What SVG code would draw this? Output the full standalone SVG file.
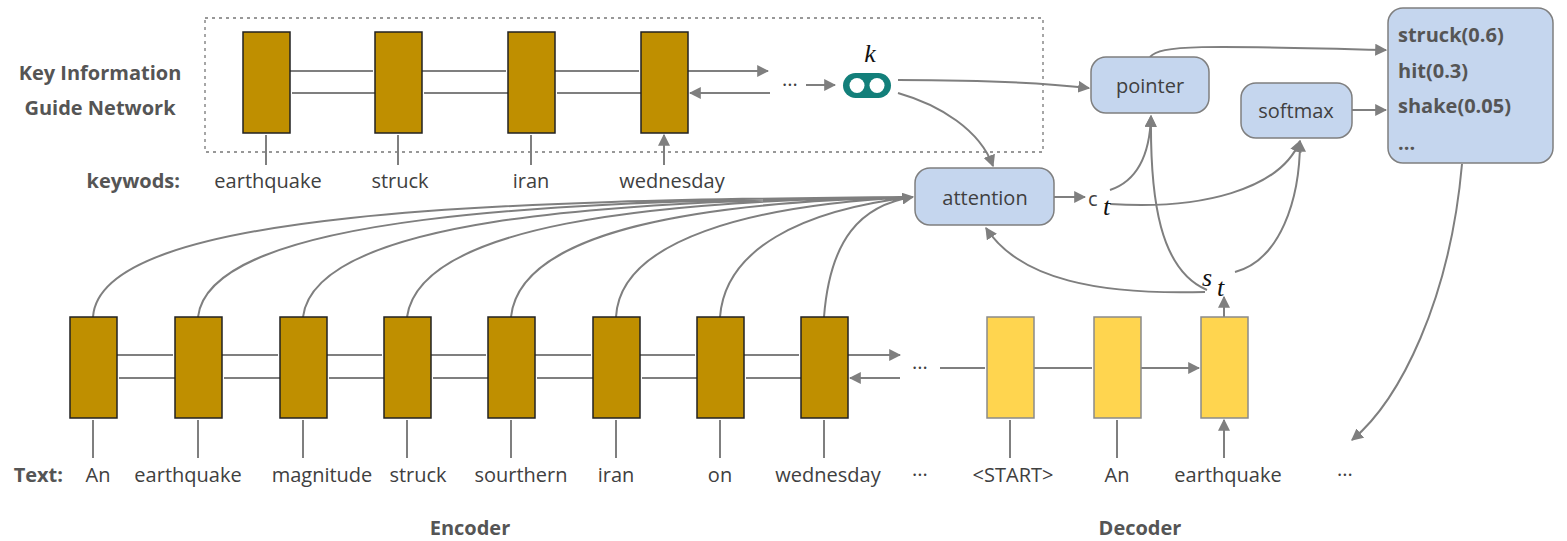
<svg xmlns="http://www.w3.org/2000/svg" width="1567" height="541" viewBox="0 0 1567 541">
<defs>
<marker id="a" viewBox="0 0 10 10" refX="9" refY="5" markerWidth="6" markerHeight="6" orient="auto-start-reverse"><path d="M0,0 L10,5 L0,10 z" fill="#7f7f7f"/></marker>
<style>
.c{fill:none;stroke:#7f7f7f;stroke-width:2;marker-end:url(#a)}
.g{fill:#bf8f00;stroke:#222;stroke-width:1.5}
.y{fill:#ffd54f;stroke:#8a8a8a;stroke-width:1.5}
.b{fill:#c5d6ee;stroke:#7f7f7f;stroke-width:1.5}
text{font-family:"Open Sans","DejaVu Sans",sans-serif;fill:#404040;font-size:20px}
.bd{font-weight:bold;fill:#555}
.m{font-family:"Liberation Serif",serif;font-style:italic;fill:#111;font-size:26px}
</style>
</defs>
<rect x="205" y="18" width="838" height="134" fill="none" stroke="#777" stroke-dasharray="3,4" stroke-width="1.3"/>
<text class="bd" x="100" y="80" text-anchor="middle" font-size="23">Key Information</text>
<text class="bd" x="100" y="115" text-anchor="middle" font-size="23">Guide Network</text>
<text class="bd" x="180" y="188" text-anchor="end" font-size="18">keywods:</text>
<text class="bd" x="63" y="482" text-anchor="end" font-size="18">Text:</text>
<text class="bd" x="470" y="535" text-anchor="middle" font-size="21">Encoder</text>
<text class="bd" x="1140" y="535" text-anchor="middle" font-size="21">Decoder</text>
<g id="connectors">
<path class="c" d="M290,71H373M422,71H506M555,71H639M688,71H768"/>
<path class="c" d="M375,93H292M508,93H424M641,93H557M770,93H690"/>
<path class="c" d="M806,85H835"/>
<path class="c" d="M266,165V135M398,165V135M531,165V135M664,165V135"/>
<path class="c" d="M117,355H173M222,355H278M327,355H382M431,355H486M535,355H591M640,355H695M744,355H799M848,355H900"/>
<path class="c" d="M175,378H119M280,378H224M384,378H329M488,378H433M593,378H537M697,378H642M801,378H746M900,378H850"/>
<path class="c" d="M940,368H985M1034,368H1092M1141,368H1199"/>
<path class="c" d="M93,458V420M198,458V420M303,458V420M407,458V420M511,458V420M616,458V420M720,458V420M824,458V420M1010,458V420M1117,458V420M1224,458V420"/>
<path class="c" d="M1224,317V297"/>
<path class="c" d="M93,317C100,210 500,200 913,197M198,317C210,215 550,200 913,197M303,317C315,220 600,200 913,197M407,317C420,225 650,200 913,197M511,317C520,230 700,202 913,197M616,317C620,240 750,205 913,197M720,317C725,250 800,210 913,197M824,317C830,240 860,205 913,197"/>
<path class="c" d="M898,80C930,80 1020,80 1089,88"/>
<path class="c" d="M898,93C940,105 980,130 993,166"/>
<path class="c" d="M1054,197H1085"/>
<path class="c" d="M1110,190C1140,180 1150,150 1151,116"/>
<path class="c" d="M1110,204C1200,210 1280,190 1300,141"/>
<path class="c" d="M1207,290C1160,270 1150,200 1151,116"/>
<path class="c" d="M1235,272C1280,260 1300,200 1300,141"/>
<path class="c" d="M1205,292C1100,295 1020,280 986,228"/>
<path class="c" d="M1150,57C1160,45 1200,45 1386,50"/>
<path class="c" d="M1352,110H1386"/>
<path class="c" d="M1462,164C1450,300 1400,400 1352,440"/>
</g>
<g id="kg1"><rect class="g" x="243" y="32" width="47" height="101"/></g>
<g id="kg2"><rect class="g" x="375" y="32" width="47" height="101"/></g>
<g id="kg3"><rect class="g" x="508" y="32" width="47" height="101"/></g>
<g id="kg4"><rect class="g" x="641" y="32" width="47" height="101"/></g>
<text x="790" y="92" text-anchor="middle">···</text>
<g id="k"><rect x="843" y="73" width="48" height="25" rx="12.5" fill="#137f7a"/><circle cx="857" cy="85.5" r="7.5" fill="#fff"/><circle cx="877" cy="85.5" r="7.5" fill="#fff"/><text class="m" x="870" y="62" text-anchor="middle" font-size="24">k</text></g>
<text x="268" y="188" text-anchor="middle">earthquake</text>
<text x="400" y="188" text-anchor="middle">struck</text>
<text x="531" y="188" text-anchor="middle">iran</text>
<text x="672" y="188" text-anchor="middle">wednesday</text>
<g id="enc">
<rect class="g" x="70" y="317" width="47" height="101"/><rect class="g" x="175" y="317" width="47" height="101"/><rect class="g" x="280" y="317" width="47" height="101"/><rect class="g" x="384" y="317" width="47" height="101"/><rect class="g" x="488" y="317" width="47" height="101"/><rect class="g" x="593" y="317" width="47" height="101"/><rect class="g" x="697" y="317" width="47" height="101"/><rect class="g" x="801" y="317" width="47" height="101"/>
</g>
<text x="920" y="375" text-anchor="middle">···</text>
<g id="dec"><rect class="y" x="987" y="317" width="47" height="101"/><rect class="y" x="1094" y="317" width="47" height="101"/><rect class="y" x="1201" y="317" width="47" height="101"/></g>
<g font-size="20">
<text x="98" y="482" text-anchor="middle">An</text>
<text x="188" y="482" text-anchor="middle">earthquake</text>
<text x="322" y="482" text-anchor="middle">magnitude</text>
<text x="418" y="482" text-anchor="middle">struck</text>
<text x="521" y="482" text-anchor="middle">sourthern</text>
<text x="616" y="482" text-anchor="middle">iran</text>
<text x="720" y="482" text-anchor="middle">on</text>
<text x="828" y="482" text-anchor="middle">wednesday</text>
<text x="920" y="482" text-anchor="middle">···</text>
<text x="1013" y="482" text-anchor="middle">&lt;START&gt;</text>
<text x="1117" y="482" text-anchor="middle">An</text>
<text x="1228" y="482" text-anchor="middle">earthquake</text>
<text x="1345" y="482" text-anchor="middle">···</text>
</g>
<g id="attention"><rect class="b" x="915" y="168" width="139" height="57" rx="15"/><text x="985" y="205" text-anchor="middle" font-size="23">attention</text></g>
<g id="pointer"><rect class="b" x="1091" y="57" width="118" height="56" rx="15"/><text x="1150" y="93" text-anchor="middle" font-size="23">pointer</text></g>
<g id="softmax"><rect class="b" x="1241" y="83" width="111" height="55" rx="15"/><text x="1296" y="118" text-anchor="middle" font-size="21">softmax</text></g>
<g id="result"><rect class="b" x="1388" y="8" width="165" height="155" rx="15"/>
<text class="bd" x="1398" y="42" font-size="21" fill="#404040">struck(0.6)</text>
<text class="bd" x="1398" y="78" font-size="21">hit(0.3)</text>
<text class="bd" x="1398" y="113" font-size="21">shake(0.05)</text>
<text class="bd" x="1398" y="150" font-size="21">...</text></g>
<text x="1088" y="206" font-family="Liberation Serif,serif" font-size="28" fill="#111">c</text><text class="m" x="1103" y="215" font-size="18">t</text>
<text class="m" x="1202" y="286" font-size="28">s</text><text class="m" x="1217" y="296" font-size="18">t</text>
</svg>
